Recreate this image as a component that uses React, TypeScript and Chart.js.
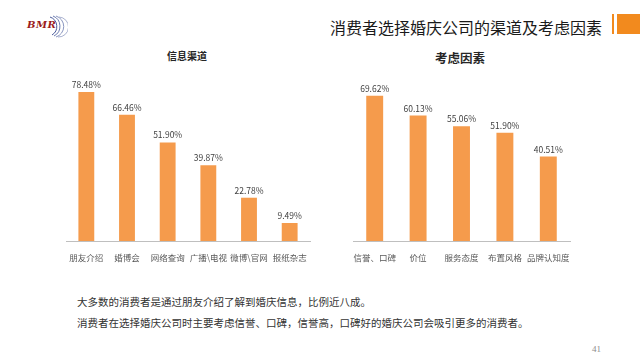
import React, { useEffect, useRef } from "react";
import { Chart, registerables } from "chart.js";

Chart.register(...registerables);

const channelLabels = ["朋友介绍", "婚博会", "网络查询", "广播\\电视", "微博\\官网", "报纸杂志"];
const channelValues = [78.48, 66.46, 51.9, 39.87, 22.78, 9.49];
const factorLabels = ["信誉、口碑", "价位", "服务态度", "布置风格", "品牌认知度"];
const factorValues = [69.62, 60.13, 55.06, 51.9, 40.51];

const FONT = "'Noto Sans CJK SC', 'Noto Sans', sans-serif";
const BAR = "#F59B4C";

const valueLabelPlugin = {
  id: "valueLabels",
  afterDatasetsDraw(chart: any) {
    const ctx = chart.ctx;
    const meta = chart.getDatasetMeta(0);
    const data = chart.data.datasets[0].data as number[];
    ctx.save();
    ctx.font = `8.5px ${FONT}`;
    ctx.fillStyle = "#404040";
    ctx.textAlign = "center";
    ctx.textBaseline = "bottom";
    meta.data.forEach((el: any, i: number) => {
      ctx.fillText(data[i].toFixed(2) + "%", el.x, el.y - 3);
    });
    ctx.restore();
  },
};

function BarChart(props: {
  labels: string[];
  values: number[];
  max: number;
  padLeft: number;
  padRight: number;
  barPct: number;
  style: React.CSSProperties;
}) {
  const ref = useRef<HTMLCanvasElement>(null);
  useEffect(() => {
    if (!ref.current) return;
    const chart = new Chart(ref.current, {
      type: "bar",
      data: {
        labels: props.labels,
        datasets: [
          {
            data: props.values,
            backgroundColor: BAR,
            barPercentage: props.barPct,
            categoryPercentage: 1,
          },
        ],
      },
      options: {
        animation: false,
        responsive: false,
        maintainAspectRatio: false,
        layout: { padding: { top: 10, left: props.padLeft, right: props.padRight, bottom: 0 } },
        plugins: { legend: { display: false }, tooltip: { enabled: false }, title: { display: false } },
        scales: {
          y: { display: false, min: 0, max: props.max },
          x: {
            grid: { display: false },
            border: { display: true, color: "#BFBFBF", width: 1 },
            ticks: {
              color: "#595959",
              font: { family: FONT, size: 8.5 },
              padding: 4,
              maxRotation: 0,
              autoSkip: false,
            },
            afterFit: (scale: any) => {
              scale.height = 29;
            },
          },
        },
      },
      plugins: [valueLabelPlugin],
    });
    return () => chart.destroy();
  }, []);
  return <canvas ref={ref} width={260} height={210} style={{ position: "absolute", ...props.style }} />;
}

export default function App() {
  return (
    <div
      style={{
        position: "fixed",
        left: 0,
        top: 0,
        width: 640,
        height: 360,
        background: "#fff",
        overflow: "hidden",
        fontFamily: FONT,
      }}
    >
      {/* logo */}
      <div
        style={{
          position: "absolute",
          left: 27,
          top: 19,
          fontFamily: "'DejaVu Serif', 'Liberation Serif', serif",
          fontStyle: "italic",
          fontWeight: "bold",
          fontSize: 10,
          color: "#9B1C1C",
          letterSpacing: 0.5,
        }}
      >
        BMR
      </div>
      <svg style={{ position: "absolute", left: 48, top: 15 }} width="20" height="24">
        <path d="M2 2 A10 10 0 0 1 4 20" stroke="#4A5A9A" strokeWidth="1" fill="none" />
        <path d="M5 1 A11 11 0 0 1 6 21" stroke="#6A7AB0" strokeWidth="1" fill="none" />
        <path d="M8 1 A11 11 0 0 1 8 22" stroke="#8A96C0" strokeWidth="1" fill="none" />
        <path d="M11 2 A10 10 0 0 1 10 22" stroke="#AAB2D0" strokeWidth="1" fill="none" />
      </svg>

      {/* header title */}
      <div
        style={{
          position: "absolute",
          right: 38,
          top: 17,
          fontSize: 16,
          color: "#1a1a1a",
          whiteSpace: "nowrap",
          lineHeight: "20px",
        }}
      >
        消费者选择婚庆公司的渠道及考虑因素
      </div>
      <div style={{ position: "absolute", left: 612, top: 14, width: 2, height: 20, background: "#F28A1E" }} />
      <div style={{ position: "absolute", left: 617, top: 14, width: 23, height: 20, background: "#F28A1E" }} />

      {/* chart titles */}
      <div
        style={{
          position: "absolute",
          left: 147,
          width: 80,
          top: 49,
          textAlign: "center",
          fontSize: 10,
          fontWeight: "bold",
          color: "#262626",
          lineHeight: "14px",
        }}
      >
        信息渠道
      </div>
      <div
        style={{
          position: "absolute",
          left: 420,
          width: 80,
          top: 49,
          textAlign: "center",
          fontSize: 12.5,
          fontWeight: "bold",
          color: "#262626",
          lineHeight: "17px",
        }}
      >
        考虑因素
      </div>

      <BarChart
        labels={channelLabels}
        values={channelValues}
        max={90}
        padLeft={6}
        padRight={10}
        barPct={0.39}
        style={{ left: 60, top: 60 }}
      />
      <BarChart
        labels={factorLabels}
        values={factorValues}
        max={82}
        padLeft={13}
        padRight={30}
        barPct={0.39}
        style={{ left: 340, top: 60 }}
      />

      {/* notes */}
      <div
        style={{
          position: "absolute",
          left: 77,
          top: 291,
          fontSize: 10.5,
          color: "#333",
          lineHeight: "21px",
          whiteSpace: "nowrap",
        }}
      >
        <div>大多数的消费者是通过朋友介绍了解到婚庆信息，比例近八成。</div>
        <div>消费者在选择婚庆公司时主要考虑信誉、口碑，信誉高，口碑好的婚庆公司会吸引更多的消费者。</div>
      </div>

      <div
        style={{
          position: "absolute",
          left: 592,
          top: 343,
          fontSize: 9,
          color: "#8C8C8C",
          fontFamily: "'Liberation Serif', serif",
          lineHeight: "12px",
        }}
      >
        41
      </div>
    </div>
  );
}
